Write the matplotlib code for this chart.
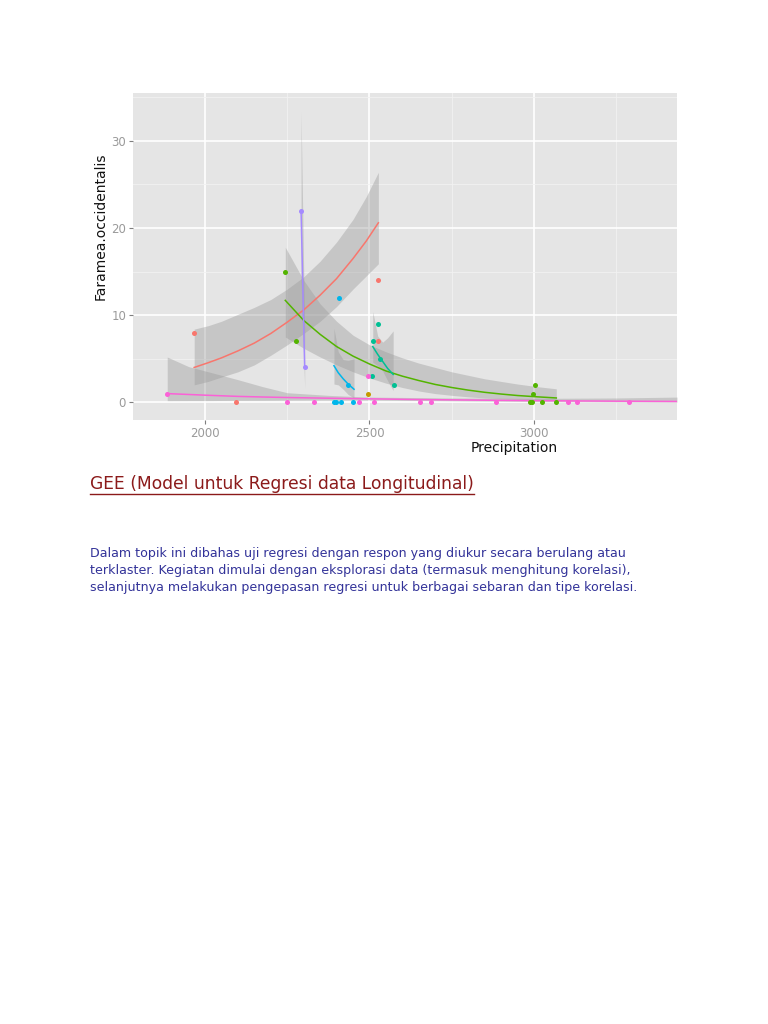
import numpy as np
import matplotlib
matplotlib.use("Agg")
import matplotlib.pyplot as plt
from matplotlib.lines import Line2D

# -------------------- data --------------------
# scatter points per group (Precipitation, Faramea.occidentalis)
red_x = [1967, 2094, 2527, 2527]
red_y = [8, 0, 14, 7]
gold_x = [2494]
gold_y = [1]
green_x = [2244, 2277, 2988, 2993, 2997, 3004, 3025, 3068]
green_y = [15, 7, 0, 0, 1, 2, 0, 0]
teal_x = [2525, 2512, 2532, 2575, 2508]
teal_y = [9, 7, 5, 2, 3]
blue_x = [2408, 2436, 2392, 2398, 2413, 2451]
blue_y = [12, 2, 0, 0, 0, 0]
purple_x = [2292, 2303]
purple_y = [22, 4]
pink_x = [1885, 2250, 2332, 2469, 2515, 2497, 2654, 2686, 2885, 3104, 3130, 3290]
pink_y = [1, 0, 0, 0, 0, 3, 0, 0, 0, 0, 0, 0]

# smoothed fits with confidence band (x, fit, lower, upper)
red_fx = [1967, 2010, 2050, 2100, 2150, 2200, 2250, 2300, 2350, 2400, 2450, 2490, 2527]
red_fit = [4.0, 4.55, 5.1, 5.9, 6.8, 7.9, 9.2, 10.6, 12.3, 14.2, 16.5, 18.5, 20.6]
red_lo = [2.0, 2.4, 2.9, 3.5, 4.3, 5.4, 6.6, 7.9, 9.3, 11.0, 13.0, 14.5, 15.9]
red_hi = [8.4, 8.8, 9.3, 10.1, 10.9, 11.8, 13.0, 14.4, 16.2, 18.4, 21.0, 23.6, 26.4]

green_fx = [2244, 2300, 2350, 2400, 2450, 2500, 2550, 2600, 2650, 2700, 2750, 2800,
            2850, 2900, 2950, 3010, 3068]
green_fit = [11.7, 9.4, 7.8, 6.4, 5.3, 4.4, 3.6, 3.0, 2.5, 2.05, 1.7, 1.4,
             1.15, 0.95, 0.78, 0.63, 0.5]
green_lo = [7.5, 6.2, 5.2, 4.3, 3.5, 2.8, 2.2, 1.7, 1.3, 1.0, 0.8, 0.63,
            0.5, 0.42, 0.35, 0.3, 0.25]
green_hi = [17.8, 14.0, 11.3, 9.3, 7.7, 6.6, 5.8, 5.1, 4.5, 4.0, 3.5, 3.1,
            2.7, 2.4, 2.1, 1.8, 1.55]

teal_fx = [2510, 2525, 2540, 2555, 2572]
teal_fit = [6.4, 5.5, 4.7, 3.9, 3.2]
teal_lo = [4.6, 4.2, 3.6, 2.5, 1.35]
teal_hi = [10.4, 7.6, 6.9, 7.4, 8.2]

blue_fx = [2392, 2405, 2420, 2435, 2453]
blue_fit = [4.2, 3.4, 2.7, 2.1, 1.5]
blue_lo = [2.1, 2.0, 1.5, 0.9, 0.5]
blue_hi = [8.5, 5.8, 4.9, 4.8, 5.0]

purple_fx = [2292, 2303]
purple_fit = [22, 4]
purple_lo = [14, 1.6]
purple_hi = [33.4, 8]

pink_fx = [1885, 1950, 2000, 2050, 2100, 2175, 2250, 2375, 2500, 2625, 2750, 3000, 3250, 3435]
pink_fit = [1.0, 0.9, 0.82, 0.75, 0.68, 0.61, 0.55, 0.47, 0.40, 0.33, 0.28, 0.19, 0.13, 0.10]
pink_lo = [0.19, 0.2, 0.2, 0.21, 0.22, 0.23, 0.25, 0.26, 0.27, 0.22, 0.17, 0.08, 0.03, 0.02]
pink_hi = [5.2, 4.1, 3.6, 3.1, 2.6, 1.8, 1.1, 0.8, 0.6, 0.55, 0.5, 0.45, 0.5, 0.6]

x_ticks = [2000, 2500, 3000]
y_ticks = [0, 10, 20, 30]

heading = "GEE (Model untuk Regresi data Longitudinal)"
para_lines = [
    "Dalam topik ini dibahas uji regresi dengan respon yang diukur secara berulang atau",
    "terklaster. Kegiatan dimulai dengan eksplorasi data (termasuk menghitung korelasi),",
    "selanjutnya melakukan pengepasan regresi untuk berbagai sebaran dan tipe korelasi.",
]

# ggplot hue palette, 7 levels
COL = {"red": "#F8766D", "gold": "#C49A00", "green": "#53B400", "teal": "#00C094",
       "blue": "#00B6EB", "purple": "#A58AFF", "pink": "#FB61D7"}

W, H = 768, 1024
fig = plt.figure(figsize=(W / 100, H / 100), dpi=100)
fig.patch.set_facecolor("white")

# axes placed in pixel terms
L, R, T, B = 133, 677, 93, 420
ax = fig.add_axes([L / W, 1 - B / H, (R - L) / W, (B - T) / H])
ax.set_facecolor("#E5E5E5")
for s in ax.spines.values():
    s.set_visible(False)

ax.set_xticks(x_ticks)
ax.set_yticks(y_ticks)
ax.set_xticks([2250, 2750, 3250], minor=True)
ax.set_yticks([5, 15, 25, 35], minor=True)
# limits after ticks so set_xticks does not widen them
ax.set_xlim(1781, 3435)
ax.set_ylim(-2.03, 35.5)
ax.grid(which="major", color="white", lw=1.2)
ax.grid(which="minor", color="#F2F2F2", lw=0.6)
ax.set_axisbelow(True)
ax.tick_params(which="major", colors="#7F7F7F", labelsize=8.5, length=3, width=0.8,
               pad=2, labelcolor="#9A9A9A")
ax.tick_params(which="minor", length=0)

# bands first
bands = [(red_fx, red_lo, red_hi), (green_fx, green_lo, green_hi),
         (teal_fx, teal_lo, teal_hi), (blue_fx, blue_lo, blue_hi),
         (purple_fx, purple_lo, purple_hi), (pink_fx, pink_lo, pink_hi)]
for fx, lo, hi in bands:
    ax.fill_between(fx, lo, hi, color="#999999", alpha=0.4, lw=0, zorder=2)

fits = [(red_fx, red_fit, "red"), (green_fx, green_fit, "green"),
        (teal_fx, teal_fit, "teal"), (blue_fx, blue_fit, "blue"),
        (purple_fx, purple_fit, "purple"), (pink_fx, pink_fit, "pink")]
for fx, fy, c in fits:
    ax.plot(fx, fy, color=COL[c], lw=1.1, zorder=3)

pts = [(red_x, red_y, "red"), (gold_x, gold_y, "gold"), (green_x, green_y, "green"),
       (teal_x, teal_y, "teal"), (blue_x, blue_y, "blue"),
       (purple_x, purple_y, "purple"), (pink_x, pink_y, "pink")]
for px, py, c in pts:
    ax.scatter(px, py, s=13, color=COL[c], lw=0, zorder=4)

# axis labels at the positions seen in the picture
fig.text(101 / W, 1 - 226 / H, "Faramea.occidentalis", rotation=90,
         ha="center", va="center", fontsize=10, color="#111111")
fig.text(514 / W, 1 - 448 / H, "Precipitation", ha="center", va="center",
         fontsize=10, color="#111111")

# document text below
ht = fig.text(90 / W, 1 - 484 / H, heading, ha="left", va="center",
              fontsize=12.35, color="#8B1A1A")
y0 = 554
for i, ln in enumerate(para_lines):
    fig.text(90 / W, 1 - (y0 + 16.5 * i) / H, ln, ha="left", va="center",
             fontsize=9.08, color="#333399")

# underline for heading
fig.canvas.draw()
bb = ht.get_window_extent()
uy = 1 - 494 / H
fig.add_artist(Line2D([bb.x0 / W, bb.x1 / W], [uy, uy], color="#8B1A1A", lw=1.0))

fig.savefig("out.png", dpi=100)
